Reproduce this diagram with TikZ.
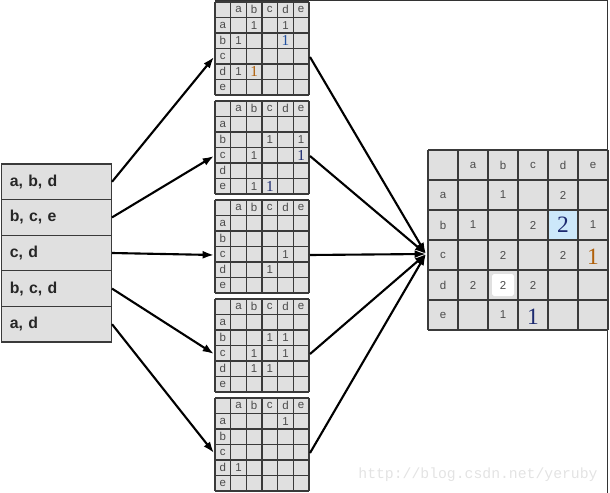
\documentclass[tikz,border=0pt]{standalone}
\usepackage{fontspec}
\setmainfont{Liberation Sans}
\newfontfamily\serifnum{Liberation Serif}
\newfontfamily\urlfont{Liberation Mono}
\usepackage{xcolor}
\usetikzlibrary{arrows.meta}
\definecolor{celula}{HTML}{E0E0E0}
\definecolor{grade}{HTML}{3A3A3A}
\definecolor{azulclaro}{HTML}{CCE8FA}
\definecolor{marrom}{HTML}{B0600A}
\definecolor{marinho}{HTML}{1C2A70}
\definecolor{azul}{HTML}{2050A0}

\begin{document}
\begin{tikzpicture}[x=0.3mm, y=-0.3mm,
  transacao/.style={draw=grade, fill=celula, line width=0.9pt, minimum width=33mm, minimum height=10.68mm,
    text width=28mm, inner xsep=2.5mm, align=left, font=\fontsize{13.5}{15}\selectfont\bfseries, text=black!85},
  rotulo/.style={text=black!70, font=\fontsize{9.8}{10}\selectfont, inner sep=0pt},
  destaque/.style={font=\serifnum\fontsize{13}{13}\selectfont, inner sep=0pt},
  grande/.style={font=\serifnum\fontsize{20}{20}\selectfont, inner sep=0pt},
  seta/.style={-{Latex[length=3.4mm, width=2.4mm]}, line width=1.8pt}]

\useasboundingbox (0,0) rectangle (610,493);

% Moldura
\draw[line width=0.8pt, black!80] (215,0.3) -- (607,0.3) -- (607,493);

% Transacoes
\foreach \txt [count=\i] in {{a, b, d},{b, c, e},{c, d},{b, c, d},{a, d}}
  \node[transacao] (t\i) at (56.5,{146.2+35.6*\i}) {\txt};

% Matrizes pequenas
\foreach \m in {1,...,5} {
  \pgfmathsetmacro{\topo}{2+99*(\m-1)}
  \fill[celula] (215,\topo) rectangle +(94,93);
  \foreach \k in {0,...,6} {
    \draw[grade, line width=1.1pt] ({215+15.67*\k},\topo) -- +(0,93);
    \draw[grade, line width=1.1pt] (215,{\topo+15.5*\k}) -- +(94,0);
  }
  \foreach \l [count=\k] in {a,b,c,d,e} {
    \node[rotulo] at ({222.8+15.67*\k},{\topo+7.75}) {\l};
    \node[rotulo] at (222.8,{\topo+7.75+15.5*\k}) {\l};
  }
  \coordinate (e\m) at (214,{\topo+55});
  \coordinate (d\m) at (310,{\topo+55});
}

% Valores das matrizes pequenas
\foreach \m/\r/\c in {1/1/2, 1/1/4, 1/2/1, 1/4/1,
                      2/2/3, 2/2/5, 2/3/2, 2/5/2,
                      3/3/4, 3/4/3,
                      4/2/3, 4/2/4, 4/3/2, 4/3/4, 4/4/2, 4/4/3,
                      5/1/4, 5/4/1}
  \node[rotulo] at ({222.8+15.67*\c},{2+99*(\m-1)+7.75+15.5*\r}) {1};
\node[destaque, text=azul] at ({222.8+15.67*4},{2+7.75+15.5*2}) {1};
\node[destaque, text=marrom] at ({222.8+15.67*2},{2+7.75+15.5*4}) {1};
\node[destaque, text=marinho] at ({222.8+15.67*5},{101+7.75+15.5*3}) {1};
\node[destaque, text=marinho] at ({222.8+15.67*3},{101+7.75+15.5*5}) {1};

% Matriz de contagem
\fill[celula] (428,150) rectangle (608,330);
\fill[azulclaro] (549,211) rectangle (578,240);
\fill[white, rounded corners=1.5pt] (492,274) rectangle (514,296);
\foreach \k in {0,...,6} {
  \draw[grade, line width=1.3pt] ({428+30*\k},150) -- +(0,180);
  \draw[grade, line width=1.3pt] (428,{150+30*\k}) -- +(180,0);
}
\foreach \l [count=\k] in {a,b,c,d,e} {
  \node[rotulo] at ({443+30*\k},165) {\l};
  \node[rotulo] at (443,{165+30*\k}) {\l};
}
\foreach \r/\c/\v in {1/2/1, 1/4/2, 2/1/1, 2/3/2, 2/5/1, 3/2/2, 3/4/2, 4/1/2, 4/2/2, 4/3/2, 5/2/1}
  \node[rotulo] at ({443+30*\c},{165+30*\r}) {\v};
\node[grande, text=marinho] at (563,225) {2};
\node[grande, text=marrom] at (593,257) {1};
\node[grande, text=marinho] at (533,317) {1};
\coordinate (total) at (426,254);

% Setas
\foreach \i in {1,...,5} {
  \draw[seta] (t\i.east) -- (e\i);
  \draw[seta] (d\i) -- (total);
}

% Marca
\node[text=gray!22, font=\urlfont\fontsize{12.6}{13}\selectfont] (marca) at (478,475) {http://blog.csdn.net/yeruby};

\end{tikzpicture}
\end{document}
